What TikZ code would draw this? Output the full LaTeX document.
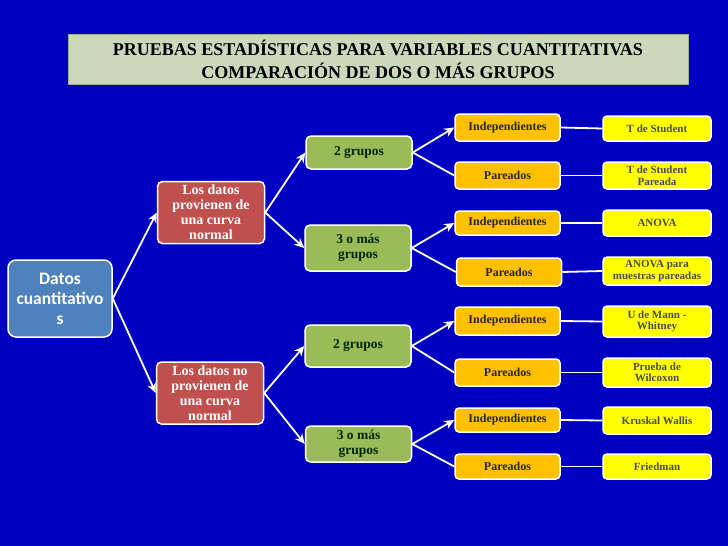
\documentclass[tikz,border=0pt]{standalone}
\usepackage{fontspec}
\setmainfont{Liberation Serif}
\newfontfamily\calfont{Carlito}
\usetikzlibrary{arrows.meta}
\definecolor{bgblue}{RGB}{0,0,192}
\definecolor{titlebg}{RGB}{204,216,188}
\definecolor{rootblue}{RGB}{79,129,189}
\definecolor{redbox}{RGB}{192,80,77}
\definecolor{greenbox}{RGB}{155,187,89}
\definecolor{orangebox}{RGB}{255,192,0}
\definecolor{yellowbox}{RGB}{255,255,0}
\begin{document}
\begin{tikzpicture}[x=1pt, y=-1pt,
    base/.style={draw=white, line width=1.5pt, rounded corners=4pt, align=center,
                 inner sep=1pt, font=\bfseries},
    rootbox/.style={base, fill=rootblue, rounded corners=8pt, text=white,
                 minimum width=104pt, minimum height=77pt, font=\calfont\bfseries\fontsize{17.5}{20}\selectfont},
    normbox/.style={base, fill=redbox, rounded corners=5pt, text=white,
                 minimum width=107pt, minimum height=62pt, font=\bfseries\fontsize{14}{15}\selectfont},
    grpbox/.style={base, fill=greenbox, rounded corners=5pt, text=black!85!green,
                 minimum width=106pt, font=\bfseries\fontsize{13.5}{15}\selectfont},
    typbox/.style={base, fill=orangebox, text=black!85,
                 minimum width=105pt, font=\bfseries\fontsize{12}{12.5}\selectfont},
    testbox/.style={base, fill=yellowbox, text=black!70,
                 minimum width=108pt, font=\bfseries\fontsize{11}{11.5}\selectfont},
    arr/.style={draw=white, line width=1.8pt, -{Stealth[length=10pt, width=9pt]}},
    lnk/.style={draw=white, line width=1.8pt},
]
\fill[bgblue] (0,0) rectangle (728,546);
\useasboundingbox (0,0) rectangle (728,546);
\node[draw=titlebg!80!black, line width=0.8pt, fill=titlebg, minimum width=620pt, minimum height=50pt,
      align=center, font=\bfseries\fontsize{18}{23}\selectfont] (title) at (378,59)
      {PRUEBAS ESTADÍSTICAS PARA VARIABLES CUANTITATIVAS\\COMPARACIÓN DE DOS O MÁS GRUPOS};
% level 1
\node[rootbox] (root) at (60,298.5) {Datos\\cuantitativo\\s};
% level 2
\node[normbox] (n1) at (211,212.5) {Los datos\\provienen de\\una curva\\normal};
\node[normbox] (n2) at (210,393) {Los datos no\\provienen de\\una curva\\normal};
% level 3
\node[grpbox, minimum height=33pt] (g1) at (359,152.5) {2 grupos};
\node[grpbox, minimum height=46pt] (g2) at (358,248) {3 o más\\grupos};
\node[grpbox, minimum height=42pt] (g3) at (358,346) {2 grupos};
\node[grpbox, minimum height=36pt] (g4) at (358.5,444) {3 o más\\grupos};
% level 4
\node[typbox, minimum height=27pt] (t1) at (507.5,127.5) {Independientes};
\node[typbox, minimum height=27pt] (t2) at (507.5,175.5) {Pareados};
\node[typbox, minimum height=24pt] (t3) at (507.5,223) {Independientes};
\node[typbox, minimum height=28pt] (t4) at (509,272) {Pareados};
\node[typbox, minimum height=28pt] (t5) at (507.5,321) {Independientes};
\node[typbox, minimum height=27pt] (t6) at (507.5,372.5) {Pareados};
\node[typbox, minimum height=24pt] (t7) at (507.5,420) {Independientes};
\node[typbox, minimum height=25pt] (t8) at (507.5,466.5) {Pareados};
% level 5
\node[testbox, minimum height=25pt] (s1) at (657,128.5) {T de Student};
\node[testbox, minimum height=27pt] (s2) at (657,175.5) {T de Student\\Pareada};
\node[testbox, minimum height=26pt] (s3) at (657,223) {ANOVA};
\node[testbox, minimum height=28pt] (s4) at (657,271) {ANOVA para\\muestras pareadas};
\node[testbox, minimum height=31pt] (s5) at (657,321.5) {U de Mann -\\Whitney};
\node[testbox, minimum height=29pt] (s6) at (657,372.5) {Prueba de\\Wilcoxon};
\node[testbox, minimum height=27pt] (s7) at (657,420.5) {Kruskal Wallis};
\node[testbox, minimum height=25pt] (s8) at (657,466.5) {Friedman};
% connectors
\draw[arr] (root.east) -- (n1.west);
\draw[arr] (root.east) -- (n2.west);
\draw[arr] (n1.east) -- (g1.west);
\draw[arr] (n1.east) -- (g2.west);
\draw[arr] (n2.east) -- (g3.west);
\draw[arr] (n2.east) -- (g4.west);
\draw[arr] (g1.east) -- (t1.west);
\draw[lnk] (g1.east) -- (t2.west);
\draw[arr] (g2.east) -- (t3.west);
\draw[lnk] (g2.east) -- (t4.west);
\draw[arr] (g3.east) -- (t5.west);
\draw[lnk] (g3.east) -- (t6.west);
\draw[arr] (g4.east) -- (t7.west);
\draw[lnk] (g4.east) -- (t8.west);
\foreach \i in {1,...,8}
  \draw[lnk] (t\i.east) -- (s\i.west);
\end{tikzpicture}
\end{document}
